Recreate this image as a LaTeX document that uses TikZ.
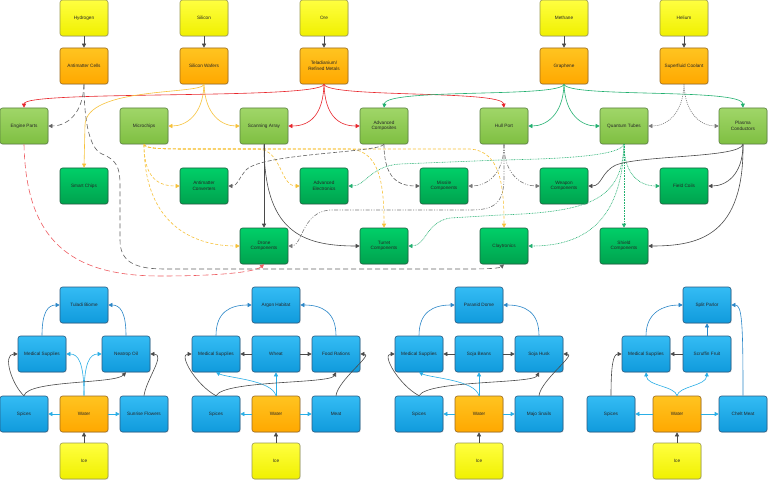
\documentclass[tikz,border=0pt]{standalone}
\usepackage{fontspec}
\setmainfont{Liberation Sans}
\usetikzlibrary{arrows.meta,shadows}
\definecolor{yelT}{HTML}{FFFF40}
\definecolor{yelBo}{HTML}{F0F000}
\definecolor{yelD}{HTML}{9A9A50}
\definecolor{orT}{HTML}{FFC420}
\definecolor{orBo}{HTML}{FFA800}
\definecolor{orD}{HTML}{9A6A20}
\definecolor{lgT}{HTML}{A0D668}
\definecolor{lgBo}{HTML}{7FBF42}
\definecolor{lgD}{HTML}{5A8040}
\definecolor{dgT}{HTML}{00CF68}
\definecolor{dgBo}{HTML}{00A24E}
\definecolor{dgD}{HTML}{1E6040}
\definecolor{blT}{HTML}{34BCF4}
\definecolor{blBo}{HTML}{109ADC}
\definecolor{blD}{HTML}{2A5A80}
\definecolor{eGray}{HTML}{4A4A4A}
\definecolor{eRed}{HTML}{E8262C}
\definecolor{eGreen}{HTML}{22B070}
\definecolor{eYel}{HTML}{F7C23A}
\definecolor{eLGray}{HTML}{7A7A7A}
\definecolor{eBlue}{HTML}{2AAEE6}
\definecolor{eDBlue}{HTML}{2A86C8}
\tikzset{
  box/.style={rounded corners=2.5pt, minimum width=48pt, minimum height=36pt,
    inner sep=1pt, align=center, font=\fontsize{4.7}{5.5}\selectfont, text=black!85,
    line width=0.6pt, drop shadow={opacity=0.25, shadow xshift=0.7pt, shadow yshift=-0.7pt}},
  yel/.style={box, draw=yelD, top color=yelT, bottom color=yelBo},
  ora/.style={box, draw=orD, top color=orT, bottom color=orBo},
  lgr/.style={box, draw=lgD, top color=lgT, bottom color=lgBo},
  dgr/.style={box, draw=dgD, top color=dgT, bottom color=dgBo},
  blu/.style={box, draw=blD, top color=blT, bottom color=blBo},
  ed/.style={line width=0.6pt, -{Triangle[length=4pt,width=4pt]}},
  egray/.style={ed, draw=eGray},
  ered/.style={ed, draw=eRed},
  egreen/.style={ed, draw=eGreen},
  eyel/.style={ed, draw=eYel},
  edot/.style={ed, draw=eLGray, dash pattern=on 1pt off 1pt},
  elong/.style={ed, draw=eLGray!80!black, dash pattern=on 5pt off 3pt},
  eredd/.style={ed, draw=eRed!75, dash pattern=on 6pt off 3pt},
  eyeld/.style={ed, draw=eYel, dash pattern=on 3pt off 2pt},
  egdash/.style={ed, draw=eLGray!80!black, dash pattern=on 4pt off 2pt},
  edashdot/.style={ed, draw=eLGray, dash pattern=on 4pt off 1.5pt on 1pt off 1.5pt on 1pt off 1.5pt},
  egdot/.style={ed, draw=eGreen, dash pattern=on 0.8pt off 0.8pt},
  eblue/.style={ed, draw=eBlue},
  edblue/.style={ed, draw=eDBlue}
}
\begin{document}
\begin{tikzpicture}[x=1pt,y=-1pt]
\useasboundingbox (0,0) rectangle (768,481);
\fill[white] (0,0) rectangle (768,481);
% ---------- top part nodes
\node[yel] (hyd) at (84,18) {Hydrogen};
\node[yel] (sil) at (204,18) {Silicon};
\node[yel] (ore) at (324,18) {Ore};
\node[yel] (met) at (564,18) {Methane};
\node[yel] (hel) at (684,18) {Helium};
\node[ora] (amc) at (84,66) {Antimatter Cells};
\node[ora] (swf) at (204,66) {Silicon Wafers};
\node[ora] (tel) at (324,66) {Teladianium/\\Refined Metals};
\node[ora] (gra) at (564,66) {Graphene};
\node[ora] (sfc) at (684,66) {Superfluid Coolant};
\node[lgr] (eng) at (24,126) {Engine Parts};
\node[lgr] (mch) at (144,126) {Microchips};
\node[lgr] (sca) at (264,126) {Scanning Array};
\node[lgr] (acm) at (384,126) {Advanced\\Composites};
\node[lgr] (hul) at (504,126) {Hull Port};
\node[lgr] (qtu) at (624,126) {Quantum Tubes};
\node[lgr] (plc) at (743,126) {Plasma\\Conductors};
\node[dgr] (smc) at (84,186) {Smart Chips};
\node[dgr] (acv) at (204,186) {Antimatter\\Converters};
\node[dgr] (ael) at (324,186) {Advanced\\Electronics};
\node[dgr] (mis) at (444,186) {Missile\\Components};
\node[dgr] (wep) at (564,186) {Weapon\\Components};
\node[dgr] (fco) at (684,186) {Field Coils};
\node[dgr] (dro) at (264,246) {Drone\\Components};
\node[dgr] (tur) at (384,246) {Turret\\Components};
\node[dgr] (cla) at (504,246) {Claytronics};
\node[dgr] (shi) at (624,246) {Shield\\Components};
% ---------- top part edges
\draw[egray] (hyd) -- (amc);
\draw[egray] (sil) -- (swf);
\draw[egray] (ore) -- (tel);
\draw[egray] (met) -- (gra);
\draw[egray] (hel) -- (sfc);
% red
\draw[ered] (tel.south) .. controls (320,100) and (24,90) .. (eng.north);
\draw[ered] (tel.south) .. controls (323,115) and (310,126) .. (sca.east);
\draw[ered] (tel.south) .. controls (325,115) and (338,126) .. (acm.west);
\draw[ered] (tel.south) .. controls (328,98) and (502,90) .. (hul.north);
% green
\draw[egreen] (gra.south) .. controls (560,98) and (386,88) .. (acm.north);
\draw[egreen] (gra.south) .. controls (563,115) and (546,126) .. (hul.east);
\draw[egreen] (gra.south) .. controls (565,115) and (582,126) .. (qtu.west);
\draw[egreen] (gra.south) .. controls (568,98) and (742,88) .. (plc.north);
% superfluid
\draw[edot] (sfc.south) .. controls (683,115) and (666,126) .. (qtu.east);
\draw[edot] (sfc.south) .. controls (685,115) and (702,126) .. (plc.west);
% silicon wafers
\draw[eyel] (swf.south) .. controls (203,115) and (186,126) .. (mch.east);
\draw[eyel] (swf.south) .. controls (205,115) and (222,126) .. (sca.west);
\draw[eyel] (swf.south) .. controls (202,95) and (86,86) .. (85,125) -- (smc.north);
% antimatter cells
\draw[elong] (amc.south) .. controls (83,115) and (66,126) .. (eng.east);
\draw[elong] (amc.south) .. controls (84,115) and (88,148) .. (102,154)
  .. controls (117,160) and (120,168) .. (120,185) -- (120,240)
  .. controls (120,262) and (135,269) .. (165,269) -- (470,269)
  .. controls (490,269) and (500,268) .. (cla.south);
% engine parts
\draw[eredd] (eng.south) .. controls (26,240) and (70,276) .. (160,276)
  .. controls (220,276) and (255,272) .. (dro.south);
% microchips
\draw[eyeld] (mch.south) .. controls (144,180) and (160,186) .. (acv.west);
\draw[eyeld] (mch.south) .. controls (144,230) and (200,246) .. (dro.west);
\draw[eyeld] (mch.south) .. controls (146,149) and (160,149) .. (200,149) -- (258,149)
  .. controls (282,150) and (280,186) .. (ael.west);
\draw[eyeld] (mch.south) .. controls (146,149) and (160,149) .. (200,149) -- (350,149)
  .. controls (380,151) and (384,185) .. (tur.north);
\draw[eyeld] (mch.south) .. controls (146,149) and (160,149) .. (200,149) -- (470,149)
  .. controls (500,151) and (504,185) .. (cla.north);
% scanning array
\draw[egray] (sca) -- (dro);
\draw[egray] (sca.south) .. controls (264,230) and (300,246) .. (tur.west);
% advanced composites
\draw[egdash] (acm.south) .. controls (378,153) and (262,153) .. (246,170)
  .. controls (239,178) and (237,186) .. (acv.east);
\draw[egdash] (acm.south) .. controls (384,180) and (400,186) .. (mis.west);
% hull port
\draw[edashdot] (hul.south) .. controls (504,175) and (486,186) .. (mis.east);
\draw[edashdot] (hul.south) .. controls (504,175) and (522,186) .. (wep.west);
\draw[edashdot] (hul.south) -- (504,178) .. controls (504,205) and (492,210) .. (470,210)
  -- (330,210) .. controls (302,212) and (302,246) .. (dro.east);
% quantum tubes
\draw[egdot] (qtu.south) .. controls (620,156) and (560,159) .. (500,160) -- (400,164)
  .. controls (370,166) and (366,186) .. (ael.east);
\draw[egdot] (qtu.south) .. controls (622,200) and (590,212) .. (500,215) -- (450,218)
  .. controls (426,222) and (426,246) .. (tur.east);
\draw[egdot] (qtu.south) .. controls (622,225) and (580,246) .. (cla.east);
\draw[egdot] (qtu.south) .. controls (624,175) and (640,186) .. (fco.west);
\draw[egdot] (qtu) -- (shi);
% plasma conductors
\draw[egray] (plc.south) .. controls (740,158) and (642,155) .. (616,165)
  .. controls (601,172) and (602,186) .. (wep.east);
\draw[egray] (plc.south) .. controls (743,175) and (726,186) .. (fco.east);
\draw[egray] (plc.south) .. controls (744,235) and (700,246) .. (shi.east);
% ---------- section 1
\node[blu] (tb) at (84,305) {Tuladi Biome};
\node[blu] (m1) at (42,354) {Medical Supplies};
\node[blu] (no) at (126,354) {Neatrop Oil};
\node[blu] (s1) at (24,414) {Spices};
\node[ora] (w1) at (84,414) {Water};
\node[blu] (sf) at (144,414) {Sunrise Flowers};
\node[yel] (i1) at (84,461) {Ice};
\draw[egray] (i1) -- (w1);
\draw[eblue] (w1) -- (s1);
\draw[eblue] (w1) -- (sf);
\draw[eblue] (w1.north) .. controls (84,362) and (78,354) .. (m1.east);
\draw[eblue] (w1.north) .. controls (84,362) and (90,354) .. (no.west);
\draw[egray] (s1.north) .. controls (12,385) and (2,354) .. (m1.west);
\draw[egray] (s1.north) .. controls (28,380) and (115,384) .. (no.south);
\draw[egray] (sf.north) .. controls (146,380) and (166,354) .. (no.east);
\draw[edblue] (m1.north) .. controls (42,312) and (48,305) .. (tb.west);
\draw[edblue] (no.north) .. controls (126,312) and (120,305) .. (tb.east);
% ---------- section 2
\node[blu] (ah) at (276,305) {Argon Habitat};
\node[blu] (m2) at (216,354) {Medical Supplies};
\node[blu] (wh) at (276,354) {Wheat};
\node[blu] (fr) at (336,354) {Food Rations};
\node[blu] (s2) at (216,414) {Spices};
\node[ora] (w2) at (276,414) {Water};
\node[blu] (mt) at (336,414) {Meat};
\node[yel] (i2) at (276,461) {Ice};
\draw[egray] (i2) -- (w2);
\draw[eblue] (w2) -- (s2);
\draw[eblue] (w2) -- (mt);
\draw[eblue] (w2) -- (wh);
\draw[eblue] (w2.north) .. controls (272,380) and (228,378) .. (m2.south);
\draw[egray] (wh) -- (m2);
\draw[egray] (wh) -- (fr);
\draw[egray] (s2.north) .. controls (196,385) and (178,354) .. (m2.west);
\draw[egray] (s2.north) .. controls (225,380) and (330,384) .. (fr.south);
\draw[egray] (mt.north) .. controls (338,380) and (374,354) .. (fr.east);
\draw[edblue] (m2.north) .. controls (216,312) and (230,305) .. (ah.west);
\draw[edblue] (fr.north) .. controls (336,312) and (322,305) .. (ah.east);
% ---------- section 3
\node[blu] (pd) at (479,305) {Paranid Dome};
\node[blu] (m3) at (419,354) {Medical Supplies};
\node[blu] (sb) at (479,354) {Soja Beans};
\node[blu] (sh) at (539,354) {Soja Husk};
\node[blu] (s3) at (419,414) {Spices};
\node[ora] (w3) at (479,414) {Water};
\node[blu] (ms) at (539,414) {Majo Snails};
\node[yel] (i3) at (479,461) {Ice};
\draw[egray] (i3) -- (w3);
\draw[eblue] (w3) -- (s3);
\draw[eblue] (w3) -- (ms);
\draw[eblue] (w3) -- (sb);
\draw[eblue] (w3.north) .. controls (475,380) and (431,378) .. (m3.south);
\draw[egray] (sb) -- (m3);
\draw[egray] (sb) -- (sh);
\draw[egray] (s3.north) .. controls (399,385) and (381,354) .. (m3.west);
\draw[egray] (s3.north) .. controls (428,380) and (533,384) .. (sh.south);
\draw[egray] (ms.north) .. controls (541,380) and (577,354) .. (sh.east);
\draw[edblue] (m3.north) .. controls (419,312) and (433,305) .. (pd.west);
\draw[edblue] (sh.north) .. controls (539,312) and (525,305) .. (pd.east);
% ---------- section 4
\node[blu] (sp) at (707,305) {Split Parlor};
\node[blu] (m4) at (646,354) {Medical Supplies};
\node[blu] (scf) at (707,354) {Scruffin Fruit};
\node[blu] (s4) at (611,414) {Spices};
\node[ora] (w4) at (677,414) {Water};
\node[blu] (cm) at (743,414) {Chelt Meat};
\node[yel] (i4) at (677,461) {Ice};
\draw[egray] (i4) -- (w4);
\draw[eblue] (w4) -- (s4);
\draw[eblue] (w4) -- (cm);
\draw[eblue] (w4.north) .. controls (675,386) and (647,386) .. (m4.south);
\draw[eblue] (w4.north) .. controls (679,386) and (706,386) .. (scf.south);
\draw[egray] (scf) -- (m4);
\draw[edblue] (scf) -- (sp);
\draw[egray] (s4.north) .. controls (611,366) and (613,354) .. (m4.west);
\draw[edblue] (m4.north) .. controls (646,312) and (664,305) .. (sp.west);
\draw[edblue] (cm.north) .. controls (743,322) and (742,305) .. (sp.east);
\end{tikzpicture}
\end{document}
